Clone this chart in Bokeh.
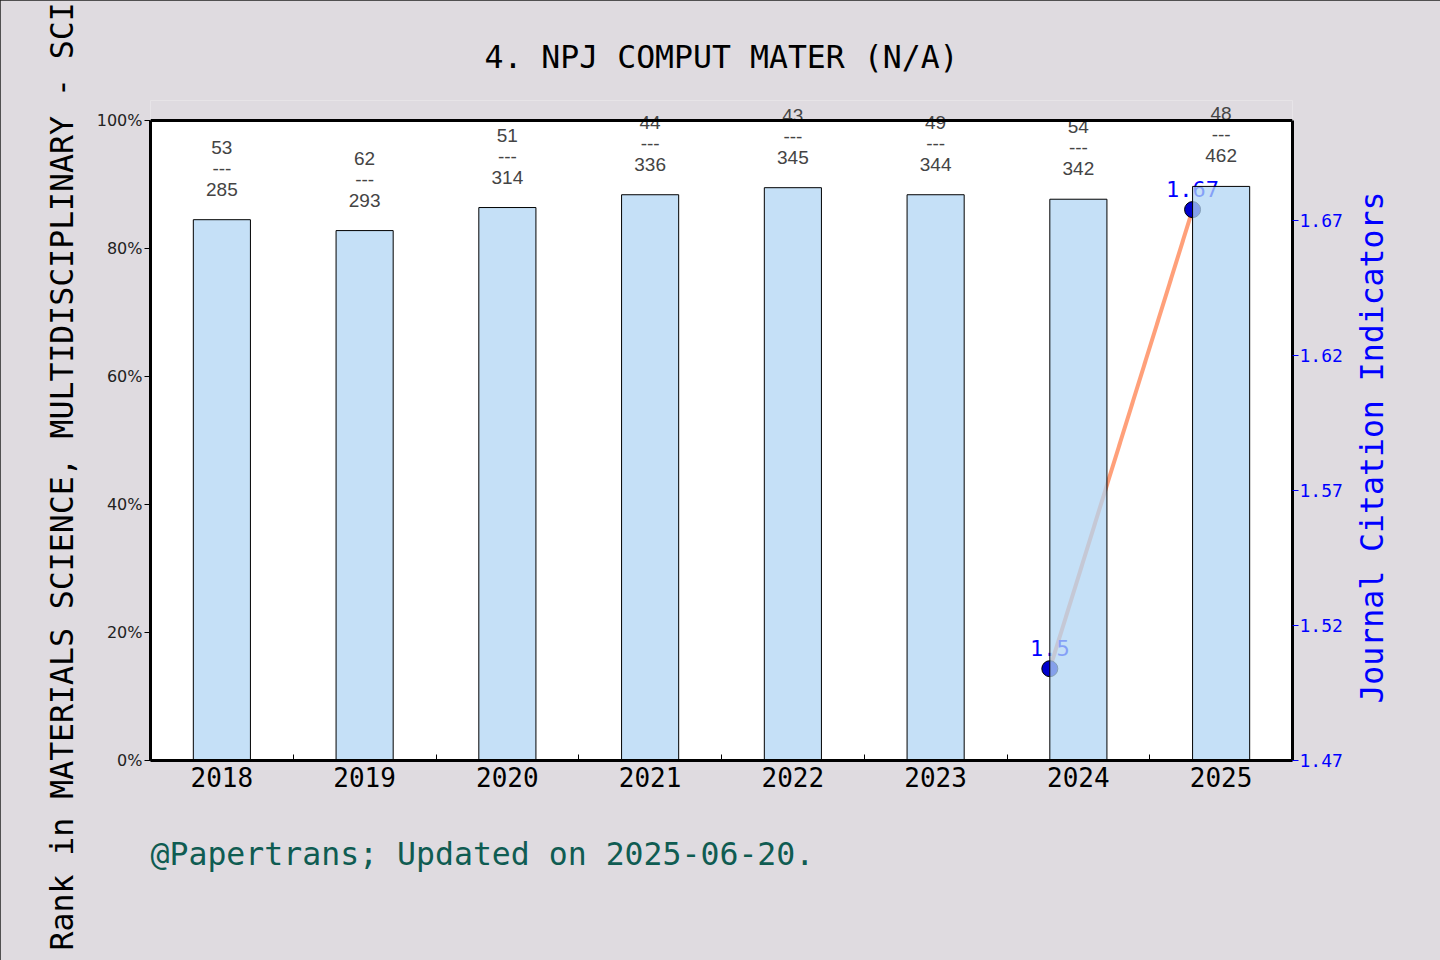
import math
from bokeh.plotting import figure
from bokeh.models import (Range1d, LinearAxis, FixedTicker, Title, ColumnDataSource,
                          PrintfTickFormatter, BoxAnnotation, Span)
from bokeh.core.properties import value
from bokeh.embed import file_html
from bokeh.resources import INLINE

# ---- data ----
years = ["2018", "2019", "2020", "2021", "2022", "2023", "2024", "2025"]
rank_pct = [84.5, 82.8, 86.4, 88.4, 89.5, 88.4, 87.7, 89.7]
ranks = [53, 62, 51, 44, 43, 49, 54, 48]
totals = [285, 293, 314, 336, 345, 344, 342, 462]
jci_years = ["2024", "2025"]
jci_values = [1.504, 1.674]
pct_ticks = [0, 20, 40, 60, 80, 100]
jci_ticks = [1.47, 1.52, 1.57, 1.62, 1.67]

title_text = "4. NPJ COMPUT MATER (N/A)"
left_label = "Rank in MATERIALS SCIENCE, MULTIDISCIPLINARY - SCIE"
right_label = "Journal Citation Indicators"
note_text = "@Papertrans; Updated on 2025-06-20."

BG = "#dfdbe0"
MONO = "DejaVu Sans Mono"
BIG = "31.5px"
BAR_W = 0.4
PCT_MAX = 100
JCI_MIN, JCI_MAX = 1.47, 1.707
Y_TOP = 103.125          # a little head-room above 100% so the labels are not clipped
JCI_TOP = JCI_MIN + (JCI_MAX - JCI_MIN) * Y_TOP / PCT_MAX

centers = [i + 0.5 for i in range(len(years))]
bounds = [float(i) for i in range(len(years) + 1)]

bar_src = ColumnDataSource(dict(
    x=centers, top=rank_pct,
    label=[f"{r}\n---\n{t}" for r, t in zip(ranks, totals)],
))
jx = [centers[years.index(y)] - BAR_W / 2 for y in jci_years]
jci_src = ColumnDataSource(dict(
    x=jx, y=jci_values, label=[f"{round(v, 2):g}" for v in jci_values],
))

p = figure(width=1440, height=960, x_range=Range1d(0, len(years)), y_range=Range1d(0, Y_TOP),
           output_backend="svg", toolbar_location=None,
           min_border_left=150, min_border_right=148, min_border_top=100, min_border_bottom=200)
p.styles = {"outline": "1px solid #222222", "outline-offset": "-1px"}
p.background_fill_color = BG
p.border_fill_color = BG
p.outline_line_color = None
p.xgrid.visible = False
p.ygrid.visible = False

# white plotting area up to 100%, top border at 100%
p.add_layout(BoxAnnotation(top=PCT_MAX, fill_color="white", fill_alpha=1, line_color=None,
                           level="underlay"))
p.add_layout(Span(location=PCT_MAX, dimension="width", line_color="black", line_width=3))

p.title.text = title_text
p.title.align = "center"
p.title.text_font = MONO
p.title.text_font_size = BIG
p.title.text_font_style = "normal"
p.title.text_color = "black"
p.title.standoff = 52

p.extra_y_ranges = {"jci": Range1d(JCI_MIN, JCI_TOP)}

# x axis
xa = p.xaxis[0]
xa.ticker = FixedTicker(ticks=centers, minor_ticks=bounds)
xa.major_label_overrides = {c: y for c, y in zip(centers, years)}
xa.major_tick_in = 0
xa.major_tick_out = 0
xa.minor_tick_in = 6
xa.minor_tick_out = 0
xa.minor_tick_line_color = "black"
xa.axis_line_width = 3
xa.axis_line_color = "black"
xa.major_label_text_font = MONO
xa.major_label_text_font_size = "26px"
xa.major_label_text_color = "black"
xa.major_label_standoff = 6

# left axis
ya = p.yaxis[0]
ya.ticker = FixedTicker(ticks=pct_ticks)
ya.bounds = (0, PCT_MAX)
ya.formatter = PrintfTickFormatter(format="%d%%")
ya.major_tick_out = 6
ya.major_tick_in = 0
ya.minor_tick_out = 0
ya.minor_tick_in = 0
ya.axis_line_width = 3
ya.axis_line_color = "black"
ya.major_label_text_font = "DejaVu Sans"
ya.major_label_text_font_size = "16px"
ya.major_label_text_color = "#222222"
ya.major_label_standoff = 2

# right axis (ticks + title reading bottom-to-top)
ra = LinearAxis(y_range_name="jci", ticker=FixedTicker(ticks=jci_ticks),
                bounds=(JCI_MIN, JCI_MAX),
                formatter=PrintfTickFormatter(format="%.2f"),
                axis_label="\u00a0" * 3 + right_label)
ra.major_tick_out = 6
ra.major_tick_in = 0
ra.minor_tick_out = 0
ra.minor_tick_in = 0
ra.major_tick_line_color = "blue"
ra.axis_line_width = 3
ra.axis_line_color = "black"
ra.major_label_text_font = MONO
ra.major_label_text_font_size = "18px"
ra.major_label_text_color = "blue"
ra.major_label_standoff = 1
ra.axis_label_text_font = MONO
ra.axis_label_text_font_size = BIG
ra.axis_label_text_font_style = "normal"
ra.axis_label_text_color = "blue"
ra.axis_label_standoff = 26
ra.axis_label_orientation = math.pi / 2
ra.axis_label_align = "start"
p.add_layout(ra, "right")

# left vertical label and bottom note
p.add_layout(Title(text=left_label, align="left", offset=-190, standoff=27,
                   text_font=MONO, text_font_size=BIG, text_font_style="normal",
                   text_color="black"), "left")
p.add_layout(Title(text=note_text, align="left", standoff=88,
                   text_font=MONO, text_font_size=BIG, text_font_style="normal",
                   text_color="#0f5c52"), "below")

# line + markers (drawn first so the bars overlay them)
p.line("x", "y", source=jci_src, y_range_name="jci", line_color="#ffa07a", line_width=4)
p.scatter("x", "y", source=jci_src, y_range_name="jci", size=16,
          fill_color="#0000cd", line_color="black", line_width=1)
p.text("x", "y", text="label", source=jci_src, y_range_name="jci",
       text_font=value(MONO), text_font_size="22px", text_color="blue",
       text_align="center", text_baseline="bottom", y_offset=-13)

# bars
p.vbar(x="x", top="top", width=BAR_W, bottom=0, source=bar_src,
       fill_color="#b2d6f4", fill_alpha=0.75, line_color="black", line_width=1)
p.text("x", "top", text="label", source=bar_src,
       text_font=value("Liberation Sans"), text_font_size="19px", text_color="#444444",
       text_align="center", text_baseline="bottom", text_line_height=1.0, y_offset=-20)

open("out.html", "w").write(file_html(p, INLINE))
